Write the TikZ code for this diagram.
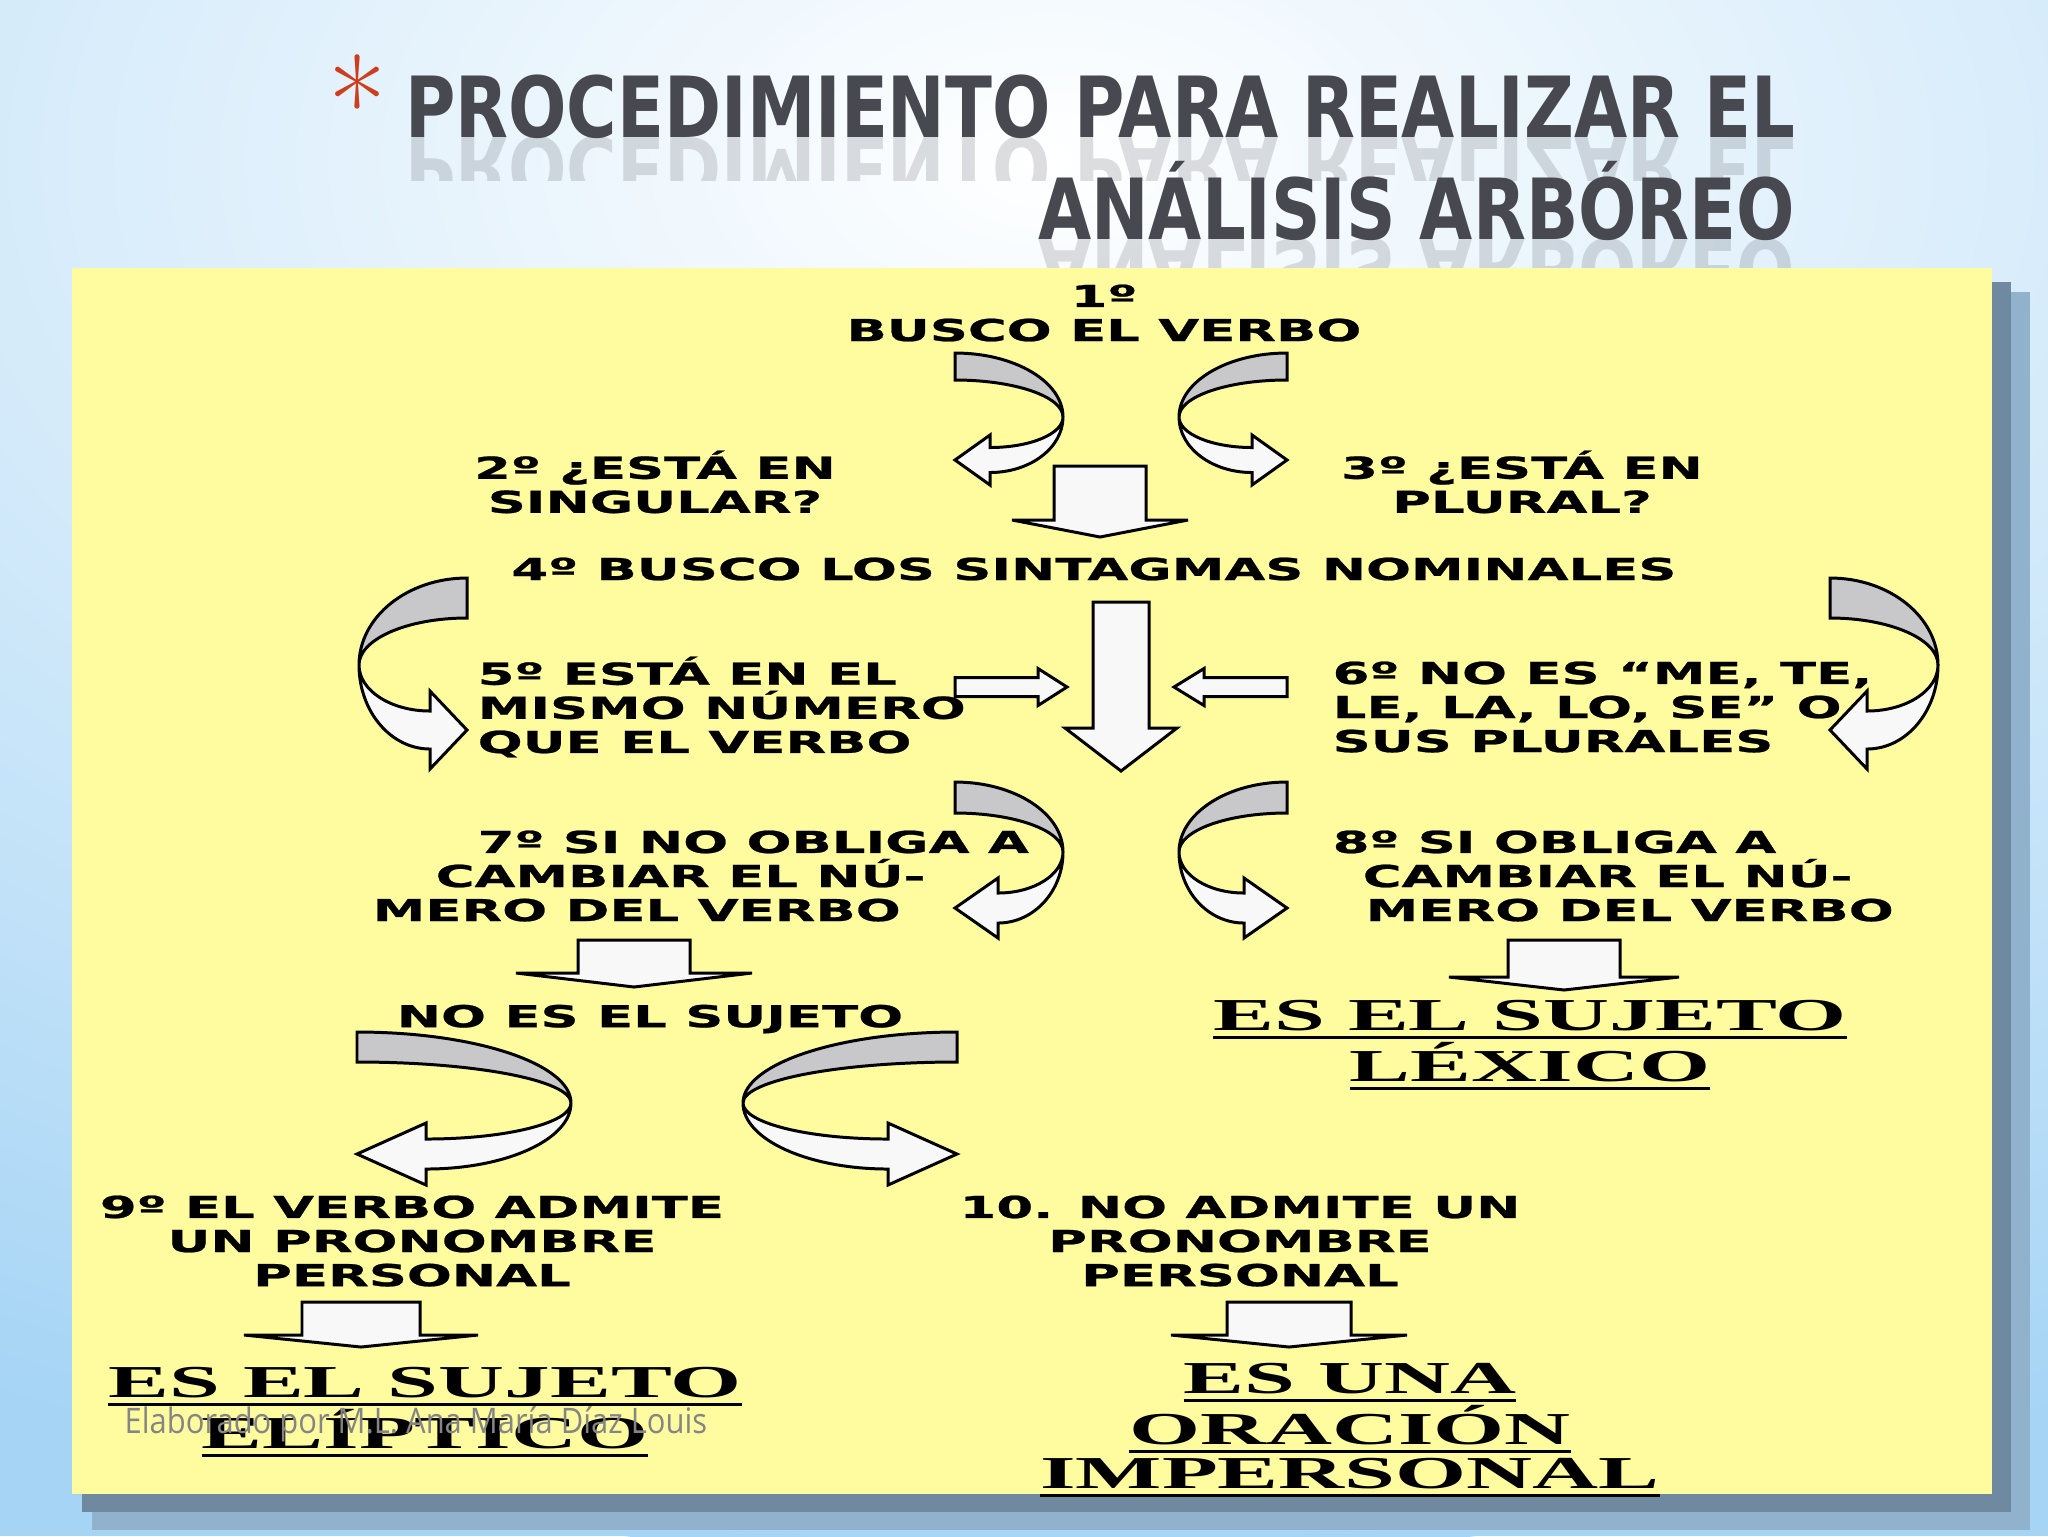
\documentclass[tikz,border=0pt]{standalone}
\usepackage{fontspec}
\usepackage{tikz}
\usetikzlibrary{positioning}

\newfontfamily\pasofont[FakeStretch=1.75, FakeBold=0.8]{DejaVu Sans}
\newfontfamily\resfont[FakeStretch=2.0]{Liberation Serif}
\newfontfamily\titfont[FakeStretch=0.815]{DejaVu Sans}
\newfontfamily\notafont[FakeStretch=0.88]{Open Sans}
% subrayado grueso
\newsavebox{\cajasub}
\newcommand{\subraya}[1]{\sbox{\cajasub}{#1}\rlap{\rule[-2.4pt]{\wd\cajasub}{0.9pt}}\usebox{\cajasub}}

\definecolor{fondo}{RGB}{165,212,245}
\definecolor{panel}{RGB}{255,252,160}
\definecolor{sombra}{RGB}{110,137,160}
\definecolor{sombraclara}{RGB}{145,178,205}
\definecolor{gristitulo}{RGB}{72,72,80}
\definecolor{asterisco}{RGB}{205,62,30}
\definecolor{cintagris}{RGB}{200,200,202}
\definecolor{cintablanca}{RGB}{248,248,248}

% flecha curva: cola arriba a la izquierda, punta abajo hacia la izquierda
% #1 x cola/punta, #2 y cola, #3 grueso cola, #4 x cruce, #5 y cruce,
% #6 x base punta, #7 y punta, #8 grueso, #9 alto punta
\newcommand{\curvarrow}[9]{%
  \pgfmathsetmacro{\rxa}{#4-#1}%
  \pgfmathsetmacro{\rya}{#5-#2}%
  \pgfmathsetmacro{\ryb}{#5-#2-#3}%
  \pgfmathsetmacro{\rxc}{#4-#6}%
  \pgfmathsetmacro{\ryc}{#7-#8/2-#5}%
  \pgfmathsetmacro{\ryd}{#7+#8/2-#5}%
  \filldraw[trasera] (#1,#2) arc[start angle=-90,end angle=0,x radius=\rxa,y radius=\rya]
    arc[start angle=0,end angle=-90,x radius=\rxa,y radius=\ryb] -- cycle;
  \filldraw[delantera] (#4,#5) arc[start angle=0,end angle=90,x radius=\rxc,y radius=\ryc]
    -- (#6,{#7-#9/2}) -- (#1,#7) -- (#6,{#7+#9/2}) -- (#6,{#7+#8/2})
    arc[start angle=90,end angle=0,x radius=\rxc,y radius=\ryd] -- cycle;
}
% flecha recta hacia abajo: x, y arriba, y base punta, y punta, medio cuerpo, media punta
\newcommand{\downblock}[6]{%
  \filldraw[bloque] ({#1-#5},#2) -- ({#1+#5},#2) -- ({#1+#5},#3) -- ({#1+#6},#3)
    -- (#1,#4) -- ({#1-#6},#3) -- ({#1-#5},#3) -- cycle;
}
% flecha recta horizontal: x cola, x base punta, x punta, y, medio cuerpo, media punta
\newcommand{\sideblock}[6]{%
  \filldraw[bloque] (#1,{#4-#5}) -- (#2,{#4-#5}) -- (#2,{#4-#6}) -- (#3,#4)
    -- (#2,{#4+#6}) -- (#2,{#4+#5}) -- (#1,{#4+#5}) -- cycle;
}

\begin{document}
\begin{tikzpicture}[x=0.1mm, y=-0.1mm,
  paso/.style={font=\pasofont\bfseries\fontsize{8.6}{9.7}\selectfont, align=center, inner sep=0pt},
  resultado/.style={font=\resfont\bfseries\fontsize{13}{12.6}\selectfont, align=center, inner sep=0pt},
  titulo/.style={font=\titfont\bfseries\fontsize{24}{24}\selectfont, text=gristitulo, inner sep=0pt},
  bloque/.style={draw=black, fill=cintablanca, line width=0.85pt, line join=miter},
  trasera/.style={draw=black, fill=cintagris, line width=0.85pt},
  delantera/.style={draw=black, fill=cintablanca, line width=0.85pt, line join=miter}]
\useasboundingbox (0,0) rectangle (2048,1536);

% fondo de la diapositiva
\fill[fondo] (0,0) rectangle (2048,1536);
\shade[inner color=white, outer color=fondo] (1050,160) ellipse [x radius=2300, y radius=1400];

% titulo con reflejo
\begin{scope}
  \clip (300,137) rectangle (1850,180);
  \begin{scope}[shift={(1796,137)}, yscale=-1]
    \node[titulo, anchor=base east, transform shape, opacity=.18] at (0,0) {PROCEDIMIENTO PARA REALIZAR EL};
  \end{scope}
\end{scope}
\begin{scope}
  \clip (300,239) rectangle (1850,275);
  \begin{scope}[shift={(1796,239)}, yscale=-1]
    \node[titulo, anchor=base east, transform shape, opacity=.18] at (0,0) {ANÁLISIS ARBÓREO};
  \end{scope}
\end{scope}
\node[titulo, anchor=base east] (tit1) at (1796,137) {PROCEDIMIENTO PARA REALIZAR EL};
\node[titulo, anchor=base east] (tit2) at (1796,239) {ANÁLISIS ARBÓREO};
\node[font=\fontsize{36}{36}\selectfont, text=asterisco, inner sep=0pt] (ast) at (358,102) {*};

% panel amarillo
\fill[sombraclara] (92,292) rectangle (2030,1530);
\fill[sombra] (82,282) rectangle (2011,1512);
\fill[panel] (72,268) rectangle (1992,1494);

% textos
\node[paso] (paso1) at (1104,313) {1º\\BUSCO EL VERBO};
\node[paso] (paso2) at (655,482) {2º ¿ESTÁ EN\\SINGULAR?};
\node[paso] (paso3) at (1522,482) {3º ¿ESTÁ EN\\PLURAL?};
\node[paso] (paso4) at (1094,569) {4º BUSCO LOS SINTAGMAS NOMINALES};
\node[paso, align=left, anchor=west] (paso5) at (477,707) {5º ESTÁ EN EL\\MISMO NÚMERO\\QUE EL VERBO};
\node[paso, align=left, anchor=west] (paso6) at (1332,707) {6º NO ES “ME, TE,\\LE, LA, LO, SE” O\\SUS PLURALES};
\node[paso, align=left, anchor=west] (paso7) at (372,876)
  {\hspace*{10.5mm}7º SI NO OBLIGA A\\\hspace*{6.3mm}CAMBIAR EL NÚ-\\MERO DEL VERBO};
\node[paso, align=left, anchor=west] (paso8) at (1332,876)
  {8º SI OBLIGA A\\\hspace*{3mm}CAMBIAR EL NÚ-\\\hspace*{3.3mm}MERO DEL VERBO};
\node[paso] (noes) at (650,1019) {NO ES EL SUJETO};
\node[resultado] (lexico) at (1530,1045) {\subraya{ES EL SUJETO}\\\subraya{LÉXICO}};
\node[paso] (paso9) at (412,1241) {9º EL VERBO ADMITE\\UN PRONOMBRE\\PERSONAL};
\node[paso] (paso10) at (1240,1241) {10. NO ADMITE UN\\PRONOMBRE\\PERSONAL};
\node[resultado] (eliptico) at (425,1412) {\subraya{ES EL SUJETO}\\\subraya{ELÍPTICO}};
\node[resultado] (impersonal) at (1350,1430) {\subraya{ES UNA}\\\subraya{ORACIÓN}\\\subraya{IMPERSONAL}};

% flechas curvas
\curvarrow{955}{353}{27}{1063}{417}{990}{460}{25}{50}
\begin{scope}[shift={(2242,0)}, xscale=-1]
  \curvarrow{955}{353}{27}{1063}{417}{990}{460}{25}{50}
\end{scope}
\curvarrow{1830}{578}{40}{1938}{665}{1867}{730}{38}{78}
\begin{scope}[shift={(2297,0)}, xscale=-1]
  \curvarrow{1830}{578}{40}{1938}{665}{1867}{730}{38}{78}
\end{scope}
\curvarrow{955}{782}{31}{1063}{852}{998}{908}{30}{60}
\begin{scope}[shift={(2242,0)}, xscale=-1]
  \curvarrow{955}{782}{31}{1063}{852}{998}{908}{30}{60}
\end{scope}
\curvarrow{357}{1032}{30}{571}{1103}{426}{1154}{30}{62}
\begin{scope}[shift={(1314,0)}, xscale=-1]
  \curvarrow{357}{1032}{30}{571}{1103}{426}{1154}{30}{62}
\end{scope}

% flechas rectas
\downblock{1100}{466}{520}{537}{46}{88}
\downblock{1121}{602}{728}{771}{28}{56}
\sideblock{955}{1038}{1067}{687}{9.5}{18.5}
\sideblock{1287}{1204}{1174}{687}{9.5}{18.5}
\downblock{634}{940}{973}{987}{56}{118}
\downblock{1564}{940}{977}{990}{56}{115}
\downblock{361}{1302}{1335}{1347}{59}{117}
\downblock{1289}{1302}{1335}{1347}{62}{118}

\node[font=\notafont\fontsize{10}{10}\selectfont, text=black!48, anchor=west, inner sep=0pt] (nota) at (124,1424)
  {Elaborado por M.L. Ana María Díaz Louis};
\end{tikzpicture}
\end{document}
